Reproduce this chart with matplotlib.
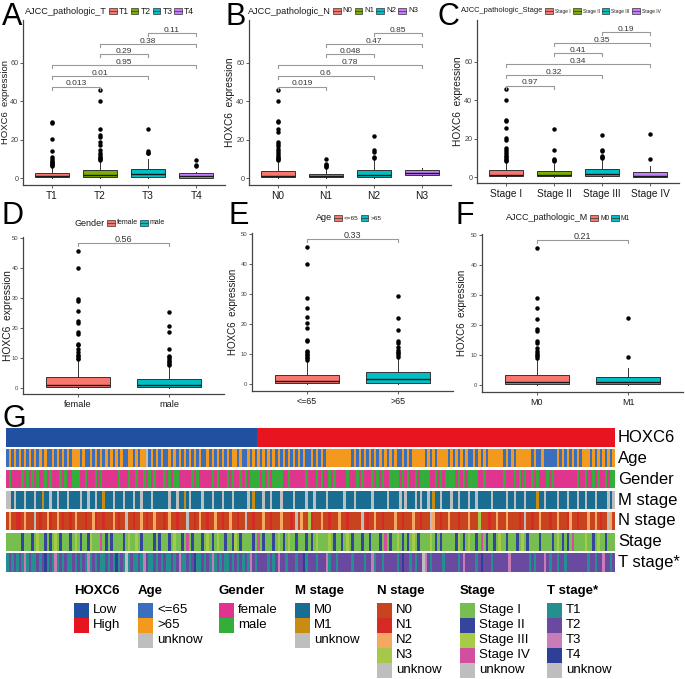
import numpy as np
import matplotlib
matplotlib.use("Agg")
import matplotlib.pyplot as plt
from matplotlib.colors import ListedColormap
from matplotlib.patches import Rectangle
from matplotlib.lines import Line2D
from matplotlib.offsetbox import HPacker, TextArea, DrawingArea, AnnotationBbox

plt.rcParams['font.family'] = ['Liberation Sans', 'DejaVu Sans']

# ------------------------------------------------------------------
# Box plot data (box stats + outliers)
# ------------------------------------------------------------------
T_groups = ['T1', 'T2', 'T3', 'T4']
T_q1 = [0.3, 0.4, 0.4, 0.2]
T_med = [1.0, 1.5, 2.1, 0.8]
T_q3 = [2.7, 4.2, 4.5, 2.7]
T_lo = [0.0, 0.0, 0.0, 0.0]
T_hi = [6.0, 9.0, 9.8, 3.2]
T_fliers = [[29.3, 28.6, 20.1, 14.3, 11.2, 10.0, 9.0, 8.3, 7.8, 7.3, 6.8, 6.3],
            [45.8, 40.0, 25.5, 22.3, 21.2, 18.6, 17.3, 14.6, 13.0, 12.0, 11.2, 10.4, 9.8, 9.3],
            [25.3, 14.2, 13.2, 12.8],
            [9.6, 6.9, 6.2]]
T_pairs = [(1, 2), (1, 3), (1, 4), (2, 3), (2, 4), (3, 4)]
T_pvals = ['0.013', '0.01', '0.95', '0.29', '0.38', '0.11']

N_groups = ['N0', 'N1', 'N2', 'N3']
N_q1 = [0.5, 0.3, 0.4, 1.8]
N_med = [1.2, 0.8, 1.8, 2.8]
N_q3 = [3.8, 2.2, 4.4, 4.0]
N_lo = [0.0, 0.0, 0.0, 1.0]
N_hi = [9.0, 4.8, 9.5, 5.0]
N_fliers = [[46.0, 40.0, 29.5, 29.0, 25.8, 24.0, 19.0, 17.8, 16.5, 15.2, 14.0, 13.0, 12.0, 11.2, 10.5, 10.0, 9.5],
            [9.8, 7.2, 6.6, 6.0, 5.5],
            [22.0, 14.8, 13.8, 11.2, 10.6],
            []]
N_pairs = [(1, 2), (1, 3), (1, 4), (2, 3), (2, 4), (3, 4)]
N_pvals = ['0.019', '0.6', '0.78', '0.048', '0.47', '0.85']

S_groups = ['Stage I', 'Stage II', 'Stage III', 'Stage IV']
S_q1 = [0.4, 0.3, 0.5, 0.2]
S_med = [1.2, 1.0, 1.7, 0.6]
S_q3 = [3.6, 3.2, 4.2, 2.8]
S_lo = [0.0, 0.0, 0.0, 0.0]
S_hi = [8.0, 6.8, 9.5, 5.8]
S_fliers = [[45.8, 40.0, 29.5, 29.0, 25.8, 20.5, 19.5, 15.0, 14.2, 13.2, 12.2, 11.2, 10.2, 9.6, 9.0, 8.5],
            [25.2, 14.2, 9.6, 9.0, 8.6],
            [22.0, 14.2, 13.4, 10.8, 10.2, 9.9],
            [22.3, 9.4]]
S_pairs = [(1, 2), (1, 3), (1, 4), (2, 3), (2, 4), (3, 4)]
S_pvals = ['0.97', '0.32', '0.34', '0.41', '0.35', '0.19']

# bracket heights shared by the three top panels
top_heights = [47.7, 53.3, 58.9, 64.6, 70.0, 75.6]

G_groups = ['female', 'male']
G_q1 = [0.4, 0.3]
G_med = [1.0, 1.0]
G_q3 = [3.7, 3.0]
G_lo = [0.0, 0.0]
G_hi = [9.0, 7.0]
G_fliers = [[45.8, 40.1, 29.5, 29.0, 25.8, 22.3, 21.8, 18.6, 18.0, 14.8, 14.3, 13.0, 12.0, 11.0, 10.5, 10.0, 9.5],
            [25.3, 20.5, 18.8, 13.0, 10.8, 10.3, 9.6, 9.1, 8.6, 8.1, 7.6]]
G_pval = '0.56'

A_groups = ['<=65', '>65']
A_q1 = [0.4, 0.4]
A_med = [1.1, 1.6]
A_q3 = [3.1, 3.9]
A_lo = [0.0, 0.0]
A_hi = [7.9, 8.9]
A_fliers = [[45.8, 40.0, 28.8, 25.3, 22.3, 20.3, 18.8, 14.6, 14.2, 11.1, 10.6, 10.1, 9.6, 9.1, 8.6, 8.1],
            [29.4, 21.9, 18.1, 14.4, 13.6, 12.4, 11.3, 10.7, 10.2, 9.6, 9.1]]
A_pval = '0.33'

M_groups = ['M0', 'M1']
M_q1 = [0.3, 0.2]
M_med = [1.0, 0.9]
M_q3 = [3.5, 2.8]
M_lo = [0.0, 0.0]
M_hi = [8.5, 5.8]
M_fliers = [[45.8, 28.9, 25.6, 21.9, 18.6, 18.0, 14.7, 14.1, 12.3, 11.2, 10.6, 10.1, 9.6, 9.1],
            [22.3, 9.4]]
M_pval = '0.21'

bottom_height = 48.3

hue4 = ['#F8766D', '#7CAE00', '#00BFC4', '#C77CFF']
hue2 = ['#F8766D', '#00BFC4']

# ------------------------------------------------------------------
# Heatmap (panel G): one code per sample column
# ------------------------------------------------------------------
hoxc6_low_n = 99
hoxc6_high_n = 141
hoxc6_cats = ['L', 'H']
hoxc6_labels = ['Low', 'High']
hoxc6_colors = ['#2150A0', '#E8141F']

age_row = ("aoaoaoaoao aoaoaoaaoa oaoaoaoooa oaaoaoaoao aoaoaoaaoo aoaoouaoao "
           "aoaaoaoaoa oaoaoaoaao aoaoaoaoao oaoaaoaoao aoaoaoaoao aoaoaoaoaa "
           "oaoaoaoooo ooooooaoao aoaoaoaoao aoaoaaoaoa oooooaoaoa ooooaoaoao "
           "aoaaoaoaoa ooooooaoao aooooooaoa aoaaaaaoao aoaoaoaooo aoaoaoaoao")
age_cats = ['a', 'o', 'u']
age_labels = ['<=65', '>65', 'unknow']
age_colors = ['#3A6FBE', '#F39A1E', '#BEBEBE']

gender_row = ("fmffffmfmf mfmffmfmff fmfmffmmmf fmfffmfmff ffffmfffmf fmffmfmfmf "
              "ffmfmfmmff fffmfmffff fmfmfffmfm ffmfmfmmmm fmfmfmmmmf fmffffffmf "
              "ffmfmffmfm ffffmfffmf mfffmfmfmf fmmmmfmfmf fmfmmmmffm fmfmmmmfmf "
              "mfmmmmffmf ffffffmfff mfmfmffmfm fffmfmffff fffffmffmf fmfmffmfmm")
gender_cats = ['f', 'm']
gender_labels = ['female', 'male']
gender_colors = ['#DF358E', '#33AE3B']

mstage_row = ("uu0u000u00 0u00100u00 u000u0000u 00u00u0010 00u000u000 u00u000u00 "
              "0000u00u00 10u0000u00 0u000u000u 00000u0100 0u00u000u0 000u0000u0 "
              "0u0000u000 000u000u00 0000u00000 u0000u0u00 0u0u00u010 0u000u00u0 "
              "00u00u0000 0u00000u00 u000u00001 00u0000u00 0u000u00u0 00u0000u0u")
mstage_cats = ['0', '1', 'u']
mstage_labels = ['M0', 'M1', 'unknow']
mstage_colors = ['#196D92', '#C98C12', '#BEBEBE']

nstage_row = ("0200110200 0u01002100 2010010200 0100210010 0020100u00 1002010020 "
              "0010200100 0u00102001 0020010020 0100u00100 0200100020 0010u02003 "
              "1000200100 0200100000 u010020010 0002001000 2001000u20 0100200010 "
              "0020003000 1002000200 0010u00100 2000100200 0120010002 0020100u20")
nstage_cats = ['0', '1', '2', '3', 'u']
nstage_labels = ['N0', 'N1', 'N2', 'N3', 'unknow']
nstage_colors = ['#C8441F', '#D52A25', '#F6A862', '#A5C84B', '#BEBEBE']

stage_row = ("1111112111 2131121213 1211121312 1123111412 1211112131 1312111121 "
             "2111213112 1412111213 1213112112 3121111214 1211121312 1311211121 "
             "2131111312 1121312111 2112111214 1211312121 3121111312 1211111231 "
             "2131121412 1121311211 1213121111 2111121312 1214111131 1213112111")
stage_cats = ['1', '2', '3', '4', 'u']
stage_labels = ['Stage I', 'Stage II', 'Stage III', 'Stage IV', 'unknow']
stage_colors = ['#77BE50', '#35459C', '#A8CB45', '#D24FA0', '#BEBEBE']

tstage_row = ("1212121312 1121241213 1212112121 2131212112 1214121u12 1121321121 "
              "2121121231 1212411212 1312121121 2121213212 2221212322 1222122412 "
              "2212223122 1222221222 2122312212 2222124221 2122u32122 2212222212 "
              "3222212422 2122222232 2222221212 2232122122 1222222221 2212232212")
tstage_cats = ['1', '2', '3', '4', 'u']
tstage_labels = ['T1', 'T2', 'T3', 'T4', 'unknow']
tstage_colors = ['#23908F', '#6A4AA0', '#C97CB5', '#2D3F96', '#BEBEBE']

row_names = ['HOXC6', 'Age', 'Gender', 'M stage', 'N stage', 'Stage', 'T stage*']

# ------------------------------------------------------------------
W, H = 685, 679
fig = plt.figure(figsize=(W / 100, H / 100), dpi=100)

over = fig.add_axes([0, 0, 1, 1])
over.set_xlim(0, W)
over.set_ylim(H, 0)
over.axis('off')
over.set_zorder(10)
over.patch.set_visible(False)


def px_axes(x0, y0, x1, y1):
    return fig.add_axes([x0 / W, 1 - y1 / H, (x1 - x0) / W, (y1 - y0) / H])


def box_panel(rect, groups, q1, med, q3, lo, hi, fliers, colors, ylim, yticks,
              ytick_fs, xtick_fs, ylab_fs, ylab_x):
    ax = px_axes(*rect)
    stats = []
    for i in range(len(groups)):
        stats.append(dict(med=med[i], q1=q1[i], q3=q3[i], whislo=lo[i],
                          whishi=hi[i], fliers=fliers[i], label=groups[i]))
    pos = np.arange(1, len(groups) + 1)
    b = ax.bxp(stats, positions=pos, widths=0.7, patch_artist=True,
               showcaps=False,
               boxprops=dict(edgecolor='#333333', linewidth=0.7),
               whiskerprops=dict(color='#333333', linewidth=0.7),
               medianprops=dict(color='#1a1a1a', linewidth=1.0),
               flierprops=dict(marker='o', markersize=2.2, markerfacecolor='black',
                               markeredgecolor='black', linestyle='none'))
    for patch, c in zip(b['boxes'], colors):
        patch.set_facecolor(c)
    ax.set_xlim(0.4, len(groups) + 0.6)
    ax.set_ylim(*ylim)
    ax.set_yticks(yticks)
    ax.set_xticks(pos)
    ax.set_xticklabels(groups)
    for s in ['top', 'right']:
        ax.spines[s].set_visible(False)
    for s in ['left', 'bottom']:
        ax.spines[s].set_color('#444444')
        ax.spines[s].set_linewidth(0.9)
    ax.tick_params(axis='y', labelsize=ytick_fs, length=2.5, width=0.6,
                   colors='#444444', pad=0.8)
    ax.tick_params(axis='x', labelsize=xtick_fs, length=2.5, width=0.6,
                   colors='#444444', labelcolor='#1a1a1a', pad=1.5)
    ax.set_ylabel('HOXC6  expression', fontsize=ylab_fs, color='#1a1a1a')
    ax.yaxis.set_label_coords(ylab_x, 0.5)
    ax.set_facecolor('none')
    return ax


def brackets(ax, pairs, heights, labels, tip, fs):
    for (i, j), yb, lab in zip(pairs, heights, labels):
        ax.plot([i, i, j, j], [yb - tip, yb, yb, yb - tip], color='#999999',
                lw=0.8, clip_on=False)
        ax.text((i + j) / 2, yb - 0.4, lab, ha='center', va='bottom',
                fontsize=fs, color='#333333')


def top_legend(x, y, title, labels, colors, tfs, lfs, kw=5.5, kh=5.0):
    items = [TextArea(title, textprops=dict(fontsize=tfs, color='#1a1a1a'))]
    for lab, c in zip(labels, colors):
        da = DrawingArea(kw, kh, 0, 0)
        da.add_artist(Rectangle((0, kh * 0.12), kw, kh * 0.76, fc=c,
                                ec='#333333', lw=0.5))
        da.add_artist(Line2D([0, kw], [kh / 2, kh / 2], color='#333333', lw=0.5))
        items.append(da)
        items.append(TextArea(lab, textprops=dict(fontsize=lfs, color='#1a1a1a')))
    pack = HPacker(children=items, align='center', pad=0, sep=1.5)
    ab = AnnotationBbox(pack, (x, y), xycoords=over.transData,
                        box_alignment=(0, 0.5), frameon=False, pad=0)
    over.add_artist(ab)


# ---- top row ----
axA = box_panel((23, 20, 225, 185), T_groups, T_q1, T_med, T_q3, T_lo, T_hi,
                T_fliers, hue4, (-3.65, 82.4), [0, 20, 40, 60], 5.2, 7.3, 6.8, -0.064)
brackets(axA, T_pairs, top_heights, T_pvals, 1.6, 6.0)
axB = box_panel((249, 20, 451, 185), N_groups, N_q1, N_med, N_q3, N_lo, N_hi,
                N_fliers, hue4, (-3.65, 82.4), [0, 20, 40, 60], 5.2, 7.3, 7.3, -0.07)
brackets(axB, N_pairs, top_heights, N_pvals, 1.6, 6.0)
axC = box_panel((477, 20, 679, 183), S_groups, S_q1, S_med, S_q3, S_lo, S_hi,
                S_fliers, hue4, (-3.1, 81.9), [0, 20, 40, 60], 5.2, 7.3, 7.3, -0.07)
brackets(axC, S_pairs, top_heights, S_pvals, 1.6, 6.0)

top_legend(25, 11, 'AJCC_pathologic_T', T_groups, hue4, 6.6, 6.2)
top_legend(248, 11, 'AJCC_pathologic_N', N_groups, hue4, 6.6, 5.6)
top_legend(461, 11, 'AJCC_pathologic_Stage', S_groups, hue4, 5.4, 3.5)

# ---- second row ----
axD = box_panel((23, 237, 224, 394), G_groups, G_q1, G_med, G_q3, G_lo, G_hi,
                G_fliers, hue2, (-2.0, 50.3), [0, 10, 20, 30, 40, 50], 4.3, 6.6, 7.4, -0.052)
brackets(axD, [(1, 2)], [bottom_height], [G_pval], 1.0, 6.5)
axE = box_panel((252, 233, 453, 391), A_groups, A_q1, A_med, A_q3, A_lo, A_hi,
                A_fliers, hue2, (-2.3, 50.3), [0, 10, 20, 30, 40, 50], 4.3, 6.4, 7.0, -0.072)
brackets(axE, [(1, 2)], [bottom_height], [A_pval], 1.0, 6.5)
axF = box_panel((482, 234, 683, 392), M_groups, M_q1, M_med, M_q3, M_lo, M_hi,
                M_fliers, hue2, (-2.3, 50.3), [0, 10, 20, 30, 40, 50], 4.3, 6.4, 7.0, -0.075)
brackets(axF, [(1, 2)], [bottom_height], [M_pval], 1.0, 6.5)

top_legend(75, 223, 'Gender', G_groups, hue2, 6.5, 5.0)
top_legend(316, 218, 'Age', A_groups, hue2, 6.5, 4.6)
top_legend(506, 218, 'AJCC_pathologic_M', M_groups, hue2, 6.5, 4.8)

# ---- panel letters ----
for lab, x, y in [('A', 2, 2), ('B', 226, 2), ('C', 438, 2),
                  ('D', 2, 201), ('E', 229, 201), ('F', 456, 201), ('G', 3, 404)]:
    over.text(x, y, lab, fontsize=22, ha='left', va='top', color='black')

# ---- heatmap ----
rows = [
    (hoxc6_cats[0] * hoxc6_low_n + hoxc6_cats[1] * hoxc6_high_n, hoxc6_cats, hoxc6_colors),
    (age_row.replace(' ', ''), age_cats, age_colors),
    (gender_row.replace(' ', ''), gender_cats, gender_colors),
    (mstage_row.replace(' ', ''), mstage_cats, mstage_colors),
    (nstage_row.replace(' ', ''), nstage_cats, nstage_colors),
    (stage_row.replace(' ', ''), stage_cats, stage_colors),
    (tstage_row.replace(' ', ''), tstage_cats, tstage_colors),
]
hm_top, hm_bot = 427, 573
hm = px_axes(6, hm_top, 615, hm_bot)
n = len(rows[0][0])
edges = np.arange(n + 1)
for r, (codes, cats, cols) in enumerate(rows):
    idx = np.array([cats.index(c) for c in codes])[None, :]
    hm.pcolormesh(edges, [r + 0.06, r + 0.94], idx, cmap=ListedColormap(cols),
                  vmin=-0.5, vmax=len(cols) - 0.5)
hm.set_xlim(0, n)
hm.set_ylim(len(rows), 0)
hm.axis('off')

pitch = (hm_bot - hm_top) / len(rows)
for r, name in enumerate(row_names):
    over.text(618, hm_top + (r + 0.5) * pitch, name, fontsize=12, ha='left',
              va='center', color='black')

# ---- heatmap legend ----
leg_blocks = [
    ('HOXC6', 74, hoxc6_labels, hoxc6_colors),
    ('Age', 138, age_labels, age_colors),
    ('Gender', 219, gender_labels, gender_colors),
    ('M stage', 295, mstage_labels, mstage_colors),
    ('N stage', 377, nstage_labels, nstage_colors),
    ('Stage', 460, stage_labels, stage_colors),
    ('T stage*', 547, tstage_labels, tstage_colors),
]
sw = 15
for title, x0, labs, cols in leg_blocks:
    over.text(x0, 591, title, fontsize=9.5, fontweight='bold', ha='left',
              va='center', color='black')
    for k, (lab, c) in enumerate(zip(labs, cols)):
        ytop = 602.5 + k * sw
        over.add_patch(Rectangle((x0, ytop), sw, sw, fc=c, ec='none'))
        over.text(x0 + sw + 4, ytop + sw / 2, lab, fontsize=9.5, ha='left',
                  va='center', color='black')

fig.savefig('out.png', dpi=100)
